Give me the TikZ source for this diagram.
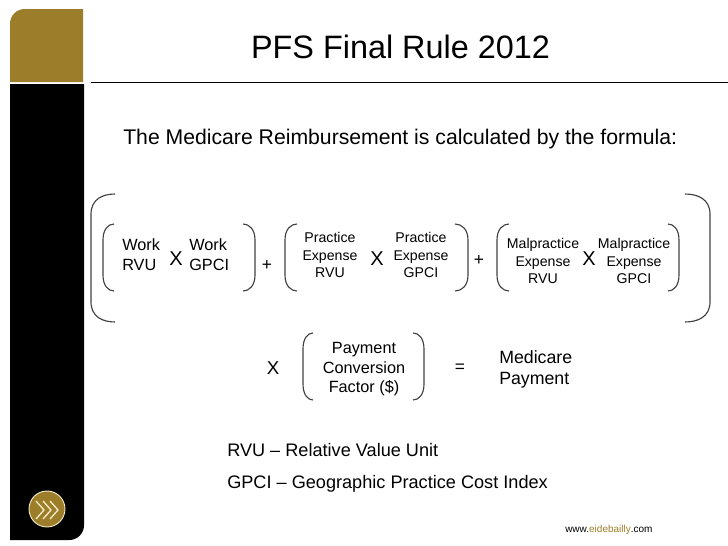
\documentclass[tikz,border=0pt]{standalone}
\usepackage{fontspec}
\setmainfont{Liberation Sans}
\definecolor{gold}{HTML}{9C7E2A}
\definecolor{cream}{HTML}{F3E9C4}
\begin{document}
\begin{tikzpicture}[x=0.75pt,y=-0.75pt,
  titletext/.style={inner sep=0pt,font=\fontsize{24.3}{29}\selectfont},
  bodytext/.style={inner sep=0pt,anchor=west,font=\fontsize{15.9}{18}\selectfont},
  worktext/.style={inner sep=0pt,align=left,anchor=west,font=\fontsize{12.2}{15}\selectfont},
  smalltext/.style={inner sep=0pt,align=center,font=\fontsize{10.6}{13.2}\selectfont},
  midtext/.style={inner sep=0pt,align=center,font=\fontsize{12.2}{14.6}\selectfont},
  optext/.style={inner sep=0pt,font=\fontsize{13}{15}\selectfont},
  timestext/.style={inner sep=0pt,font=\fontsize{15}{17}\selectfont},
  legendtext/.style={inner sep=0pt,anchor=west,font=\fontsize{13.6}{16}\selectfont},
  bracket/.style={line width=0.85pt,color=black!75}]
\useasboundingbox (0,0) rectangle (728,546);

% side bar
\fill[gold] (10,82) [rounded corners=11pt] -- (10,9) [sharp corners] -- (83,9) -- (83,82) -- cycle;
\fill[black] (10,84) -- (84,84) [rounded corners=11pt] -- (84,540) [sharp corners] -- (10,540) -- cycle;
\draw[line width=0.7pt,color=cream,fill=gold] (47,509) circle (18);
\foreach \x in {36,43,50}
  \draw[line width=1pt,color=cream] (\x,501) -- (\x+8,510) -- (\x,519);

% title
\node[titletext] (title) at (400.5,47) {PFS Final Rule 2012};
\draw[line width=0.7pt] (91,82) -- (728,82);
\node[bodytext] (formula) at (123,139) {The Medicare Reimbursement is calculated by the formula:};

% brackets
\foreach \xa/\xb in {114/103,243/255,297/285,455/468,509/497,668/679}
  \draw[bracket] (\xa,224) .. controls ({(\xa+\xb)/2},224) and (\xb,229) .. (\xb,240) -- (\xb,275) .. controls (\xb,286) and ({(\xa+\xb)/2},291) .. (\xa,291);
\foreach \xa/\xb in {313/303,413/424}
  \draw[bracket] (\xa,333) .. controls ({(\xa+\xb)/2},333) and (\xb,338) .. (\xb,349) -- (\xb,384) .. controls (\xb,395) and ({(\xa+\xb)/2},400) .. (\xa,400);
\foreach \xa/\xb in {115/91,685/710}
  \draw[bracket] (\xa,194) .. controls ({(\xa+\xb)/2},194) and (\xb,199) .. (\xb,214) -- (\xb,302) .. controls (\xb,317) and ({(\xa+\xb)/2},322) .. (\xa,322);

% formula terms
\node[worktext] (workrvu) at (122,255) {Work\\RVU};
\node[timestext] (timesa) at (176,259) {X};
\node[worktext] (workgpci) at (189,255) {Work\\GPCI};
\node[optext] (plusa) at (267,265) {+};
\node[smalltext] (pervu) at (330,255) {Practice\\Expense\\RVU};
\node[timestext] (timesb) at (377,259) {X};
\node[smalltext] (pegpci) at (421,255) {Practice\\Expense\\GPCI};
\node[optext] (plusb) at (479,260) {+};
\node[smalltext] (mprvu) at (543,261) {Malpractice\\Expense\\RVU};
\node[timestext] (timesc) at (589,259) {X};
\node[smalltext] (mpgpci) at (634,261) {Malpractice\\Expense\\GPCI};

\node[optext,font=\fontsize{14}{16}\selectfont] (timesd) at (273,368) {X};
\node[midtext] (factor) at (364,369.5) {Payment\\Conversion\\Factor (\$)};
\node[optext] (equals) at (460,368) {=};
\node[legendtext,align=left,font=\fontsize{13.3}{16}\selectfont] (payment) at (499,369.5) {Medicare\\Payment};

% legend
\node[legendtext] (legenda) at (227,450) {RVU -- Relative Value Unit};
\node[legendtext] (legendb) at (227,484) {GPCI -- Geographic Practice Cost Index};

\node[inner sep=0pt,anchor=west,font=\fontsize{7.5}{9}\selectfont] (web) at (565,530) {www.\textcolor{gold}{eidebailly}.com};
\end{tikzpicture}
\end{document}
